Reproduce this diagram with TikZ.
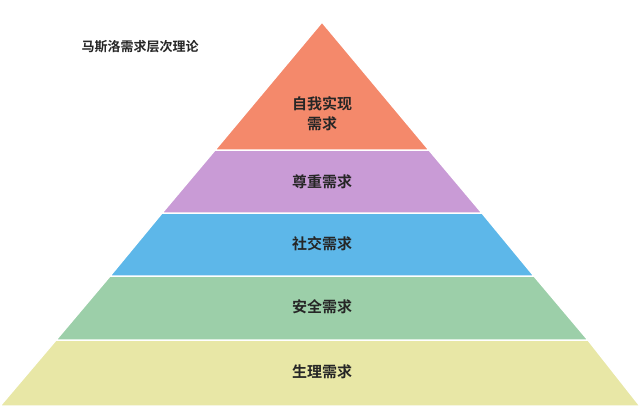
\documentclass[tikz,border=0pt]{standalone}
\usepackage{fontspec}
\newfontfamily\cjk{Noto Sans CJK SC}[BoldFont={Noto Sans CJK SC Bold}]
\usetikzlibrary{positioning}
\definecolor{selfcol}{HTML}{F4896B}
\definecolor{esteemcol}{HTML}{C99BD6}
\definecolor{socialcol}{HTML}{5DB7E9}
\definecolor{safecol}{HTML}{9CCFA9}
\definecolor{basecol}{HTML}{E8E7A6}
\tikzset{
  layer/.style={draw=white, line width=1.5pt},
  lbl/.style={font=\cjk\bfseries\fontsize{15}{20}\selectfont, align=center, text=black!85}
}
\begin{document}
\begin{tikzpicture}[x=1pt, y=-1pt]
\useasboundingbox (0,0) rectangle (640,410);
\fill[white] (0,0) rectangle (640,410);
% layers, bottom to top
\filldraw[layer, fill=basecol] (0,406) -- (56,340) -- (588,340) -- (640,406) -- cycle;
\filldraw[layer, fill=safecol] (56,340) -- (110,276) -- (534,276) -- (588,340) -- cycle;
\filldraw[layer, fill=socialcol] (110,276) -- (162,213) -- (482,213) -- (534,276) -- cycle;
\filldraw[layer, fill=esteemcol] (162,213) -- (215,150) -- (429,150) -- (482,213) -- cycle;
\filldraw[layer, fill=selfcol] (215,150) -- (322,22) -- (429,150) -- cycle;
% labels
\node[lbl] (title) at (140,47) {\fontsize{13}{16}\selectfont 马斯洛需求层次理论};
\node[lbl] (self) at (322,114) {自我实现\\需求};
\node[lbl] (esteem) at (322,182) {尊重需求};
\node[lbl] (social) at (322,244) {社交需求};
\node[lbl] (safe) at (322,307) {安全需求};
\node[lbl] (base) at (322,372) {生理需求};
\end{tikzpicture}
\end{document}
